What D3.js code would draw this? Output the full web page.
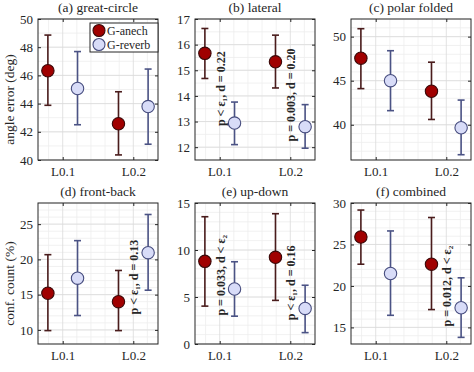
<!DOCTYPE html>
<html>
<head>
<meta charset="utf-8">
<script src="https://cdn.jsdelivr.net/npm/d3@7"></script>
<style>
  body { margin: 0; background: #fff; }
  svg text { font-family: 'Liberation Serif', 'DejaVu Serif', serif; fill: #262626; }
</style>
</head>
<body>
<div id="chart"></div>
<script>
var W = 474, H = 372;
var SERIF = "'Liberation Serif', 'DejaVu Serif', serif";

var categories = ["L0.1", "L0.2"];
var seriesNames = ["G-anech", "G-reverb"];

var panelTitles = ["(a) great-circle", "(b) lateral", "(c) polar folded",
                   "(d) front-back", "(e) up-down", "(f) combined"];
var yLabels = ["angle error (deg)", "", "", "conf. count (%)", "", ""];
var yDomains = [[40, 50], [11.5, 17], [36, 52], [8, 28], [0, 15], [13, 30]];
var yTicks = [[40, 42, 44, 46, 48, 50], [12, 13, 14, 15, 16, 17], [40, 45, 50],
              [10, 15, 20, 25], [0, 5, 10, 15], [15, 20, 25, 30]];
var yMinorStep = [1, 0.5, 1, 1, 1, 1];

// [L0.1, L0.2] per panel
var anechMean = [[46.33, 42.57], [15.66, 15.33], [47.55, 43.8], [15.2, 14.0], [8.79, 9.22], [25.9, 22.62]];
var anechLow  = [[43.88, 40.36], [14.68, 14.31], [44.1, 40.6], [9.9, 9.9], [4.03, 4.64], [22.62, 17.15]];
var anechHigh = [[48.86, 44.84], [16.63, 16.37], [50.9, 47.1], [20.67, 18.43], [13.54, 13.86], [29.15, 28.25]];
var reverbMean = [[45.07, 43.79], [12.94, 12.8], [45.0, 39.66], [17.33, 20.95], [5.85, 3.78], [21.5, 17.37]];
var reverbLow  = [[42.5, 41.12], [12.1, 11.96], [41.6, 36.6], [12.04, 15.63], [2.96, 1.21], [16.46, 13.8]];
var reverbHigh = [[47.69, 46.45], [13.76, 13.66], [48.4, 42.8], [22.66, 26.37], [8.75, 6.25], [26.63, 20.98]];

// significance notes: panel, category, y centre, text
var notePanel = [1, 1, 3, 4, 4, 5];
var noteCat = [0, 1, 1, 0, 1, 1];
var noteY = [14.28, 14.04, 17.5, 7.32, 6.5, 19.98];
var noteText = ["p < ε₁, d = 0.22", "p = 0.003, d = 0.20", "p < ε₁, d = 0.13",
                "p = 0.033, d < ε₂", "p < ε₁, d = 0.16", "p = 0.012, d < ε₂"];

var lefts = [38, 195, 351], tops = [19, 203];
var pw = 120, ph = 141;
var offset = 0.21;

var colors = {
  anech: { fill: "#a00000", stroke: "#3a0808", bar: "#4a1c1c" },
  reverb: { fill: "#d8dcf8", stroke: "#464c7e", bar: "#4b5385" }
};

var svg = d3.select("#chart").append("svg")
  .attr("width", W).attr("height", H);

function hline(g, vals, y, w, col) {
  g.selectAll(null).data(vals).enter().append("line")
    .attr("x1", 0).attr("x2", w)
    .attr("y1", function(d) { return y(d); }).attr("y2", function(d) { return y(d); })
    .attr("stroke", col).attr("stroke-width", 0.8);
}
function vline(g, vals, x, h, col) {
  g.selectAll(null).data(vals).enter().append("line")
    .attr("y1", 0).attr("y2", h)
    .attr("x1", function(d) { return x(d); }).attr("x2", function(d) { return x(d); })
    .attr("stroke", col).attr("stroke-width", 0.8);
}

panelTitles.forEach(function(title, p) {
  var x0 = lefts[p % 3], y0 = tops[Math.floor(p / 3)];
  var g = svg.append("g").attr("transform", "translate(" + x0 + "," + y0 + ")");

  var x = d3.scaleLinear().domain([0.65, 2.35]).range([0, pw]);
  var y = d3.scaleLinear().domain(yDomains[p]).range([ph, 0]);

  // grid
  var yMinor = d3.range(Math.ceil(yDomains[p][0] / yMinorStep[p]) * yMinorStep[p],
                        yDomains[p][1] + 1e-9, yMinorStep[p]);
  hline(g, yMinor, y, pw, "#ededed");
  vline(g, [0.8, 1.2, 1.4, 1.6, 1.8, 2.2], x, ph, "#ededed");
  hline(g, yTicks[p], y, pw, "#dadada");
  vline(g, [1, 2], x, ph, "#dadada");

  // axes with inward ticks
  var yAxis = g.append("g").call(d3.axisLeft(y).tickValues(yTicks[p]).tickSizeInner(-3).tickSizeOuter(0)
    .tickPadding(5).tickFormat(d3.format("d")));
  var yAxisR = g.append("g").attr("transform", "translate(" + pw + ",0)")
    .call(d3.axisRight(y).tickValues(yTicks[p]).tickSizeInner(-3).tickSizeOuter(0).tickFormat(""));
  var xAxis = g.append("g").attr("transform", "translate(0," + ph + ")")
    .call(d3.axisBottom(x).tickValues([1, 2]).tickSizeInner(-3).tickSizeOuter(0).tickPadding(7)
      .tickFormat(function(d, i) { return categories[i]; }));
  var xAxisT = g.append("g")
    .call(d3.axisTop(x).tickValues([1, 2]).tickSizeInner(-3).tickSizeOuter(0).tickFormat(""));
  [yAxis, yAxisR, xAxis, xAxisT].forEach(function(a) {
    a.attr("font-family", SERIF).attr("font-size", 13);
    a.select(".domain").remove();
    a.selectAll("line").attr("stroke", "#262626");
    a.selectAll("text").attr("fill", "#262626");
  });

  g.append("rect").attr("width", pw).attr("height", ph)
    .attr("fill", "none").attr("stroke", "#262626").attr("stroke-width", 1);

  // title
  svg.append("text").attr("x", x0 + pw / 2).attr("y", y0 - 7)
    .attr("text-anchor", "middle").attr("font-family", SERIF).attr("font-size", 13.5).text(title);

  // y label
  if (yLabels[p]) {
    svg.append("text")
      .attr("transform", "translate(14," + (y0 + ph / 2 + 10) + ") rotate(-90)")
      .attr("text-anchor", "middle").attr("font-family", SERIF).attr("font-size", 13.5).text(yLabels[p]);
  }

  // error bars + markers
  var sets = [
    { key: "anech", mean: anechMean[p], lo: anechLow[p], hi: anechHigh[p], dx: -offset },
    { key: "reverb", mean: reverbMean[p], lo: reverbLow[p], hi: reverbHigh[p], dx: offset }
  ];
  sets.forEach(function(s) {
    var c = colors[s.key];
    var pts = categories.map(function(cat, i) {
      return { xv: i + 1 + s.dx, m: s.mean[i], lo: s.lo[i], hi: s.hi[i] };
    });
    var eg = g.append("g");
    eg.selectAll(null).data(pts).enter().append("line")
      .attr("x1", function(d) { return x(d.xv); }).attr("x2", function(d) { return x(d.xv); })
      .attr("y1", function(d) { return y(d.lo); }).attr("y2", function(d) { return y(d.hi); })
      .attr("stroke", c.bar).attr("stroke-width", 1.6);
    ["lo", "hi"].forEach(function(k) {
      eg.selectAll(null).data(pts).enter().append("line")
        .attr("x1", function(d) { return x(d.xv) - 3.5; }).attr("x2", function(d) { return x(d.xv) + 3.5; })
        .attr("y1", function(d) { return y(d[k]); }).attr("y2", function(d) { return y(d[k]); })
        .attr("stroke", c.bar).attr("stroke-width", 1.6);
    });
    eg.selectAll(null).data(pts).enter().append("circle")
      .attr("cx", function(d) { return x(d.xv); }).attr("cy", function(d) { return y(d.m); })
      .attr("r", 6.2).attr("fill", c.fill).attr("stroke", c.stroke).attr("stroke-width", 1.1);
  });

  // notes
  notePanel.forEach(function(np, k) {
    if (np !== p) return;
    g.append("text")
      .attr("transform", "translate(" + (x(noteCat[k] + 1) + 5) + "," + y(noteY[k]) + ") rotate(-90)")
      .attr("text-anchor", "middle")
      .attr("font-family", SERIF).attr("font-size", 12).attr("font-weight", "bold")
      .text(noteText[k]);
  });

  // legend
  if (p === 0) {
    var lg = g.append("g").attr("transform", "translate(52,4)");
    lg.append("rect").attr("width", 68).attr("height", 29)
      .attr("fill", "#fff").attr("stroke", "#262626").attr("stroke-width", 1);
    seriesNames.forEach(function(name, i) {
      var c = colors[i === 0 ? "anech" : "reverb"];
      lg.append("circle").attr("cx", 9).attr("cy", 7.5 + i * 14).attr("r", 6)
        .attr("fill", c.fill).attr("stroke", c.stroke).attr("stroke-width", 1.1);
      lg.append("text").attr("x", 17).attr("y", 11.5 + i * 14)
        .attr("font-family", SERIF).attr("font-size", 12).text(name);
    });
  }
});
</script>
</body>
</html>
